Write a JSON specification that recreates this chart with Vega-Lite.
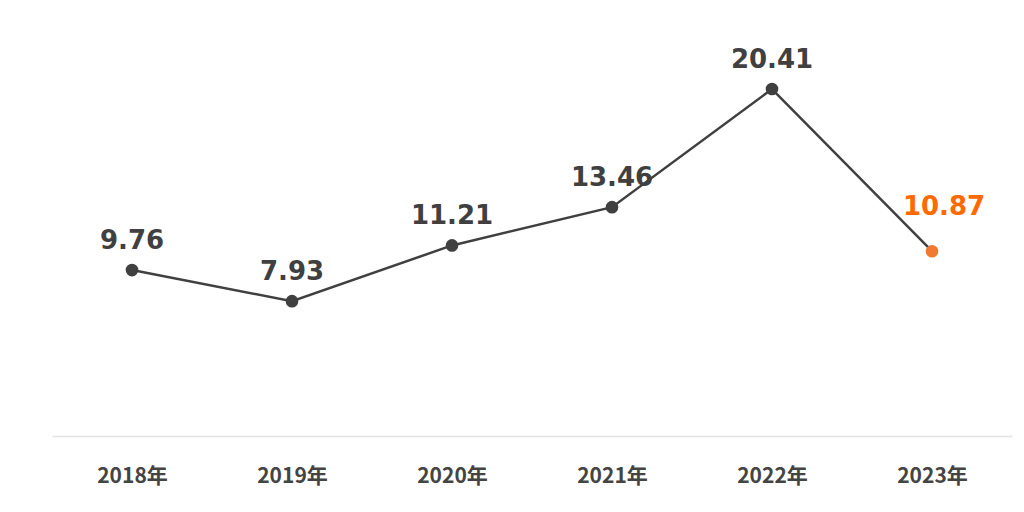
{
  "$schema": "https://vega.github.io/schema/vega-lite/v6.json",
  "autosize": "none",
  "padding": {"left": 52, "top": 11, "right": 12, "bottom": 76},
  "width": 960,
  "height": 425,
  "background": "white",
  "config": {"view": {"stroke": null}},
  "data": {
    "values": [
      {"year": "2018年", "value": 9.76},
      {"year": "2019年", "value": 7.93},
      {"year": "2020年", "value": 11.21},
      {"year": "2021年", "value": 13.46},
      {"year": "2022年", "value": 20.41},
      {"year": "2023年", "value": 10.87}
    ]
  },
  "encoding": {
    "x": {
      "field": "year",
      "type": "ordinal",
      "sort": null,
      "title": null,
      "scale": {"type": "point", "padding": 0.5},
      "axis": {
        "labelAngle": 0,
        "labelFont": "Noto Sans CJK SC",
        "labelFontWeight": "bold",
        "labelFontSize": 21,
        "labelColor": "#444444",
        "labelPadding": 29,
        "ticks": false,
        "domainColor": "#e3e3e3",
        "domainWidth": 1.5,
        "grid": false
      }
    },
    "y": {
      "field": "value",
      "type": "quantitative",
      "scale": {"domain": [0, 25]},
      "axis": null
    }
  },
  "layer": [
    {"mark": {"type": "line", "color": "#404040", "strokeWidth": 2.5}},
    {
      "transform": [{"filter": "datum.year != '2023年'"}],
      "mark": {"type": "circle", "color": "#404040", "size": 160, "opacity": 1}
    },
    {
      "transform": [{"filter": "datum.year == '2023年'"}],
      "mark": {"type": "circle", "color": "#F07B30", "size": 160, "opacity": 1}
    },
    {
      "transform": [{"filter": "datum.year != '2023年'"}],
      "mark": {"type": "text", "font": "DejaVu Sans", "fontWeight": "bold", "fontSize": 26, "color": "#404040", "dy": -29},
      "encoding": {"text": {"field": "value", "type": "quantitative", "format": ".2f"}}
    },
    {
      "transform": [{"filter": "datum.year == '2023年'"}],
      "mark": {"type": "text", "font": "DejaVu Sans", "fontWeight": "bold", "fontSize": 26, "color": "#FF6A00", "dx": 12, "dy": -44},
      "encoding": {"text": {"field": "value", "type": "quantitative", "format": ".2f"}}
    }
  ]
}
